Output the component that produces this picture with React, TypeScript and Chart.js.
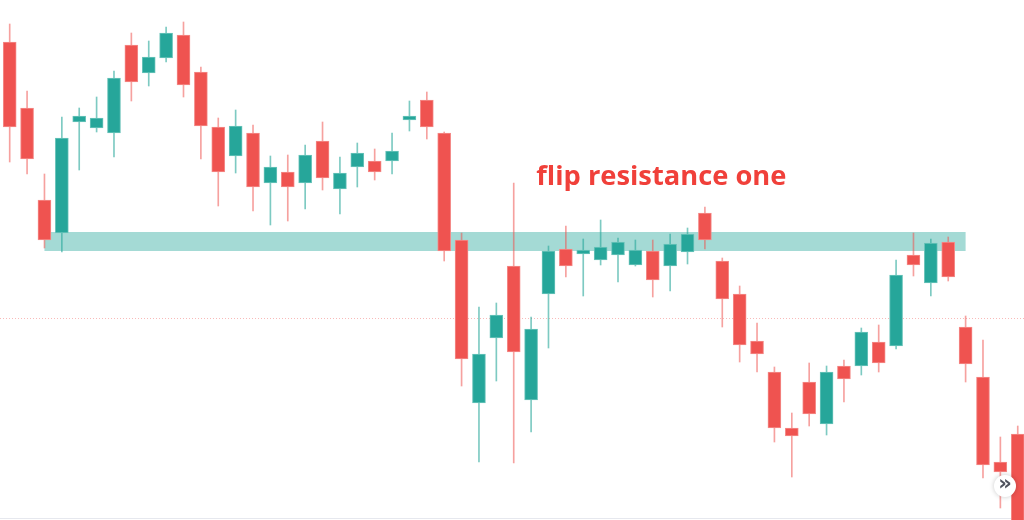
import React, { useEffect, useRef } from "react";
import { Chart, registerables } from "chart.js";

Chart.register(...registerables);

// Candle index (time order) — no visible time labels in the picture
const candleIndex: number[] = Array.from({ length: 59 }, (_, i) => i);

// OHLC (arbitrary price units, higher = up)
const opens: number[] = [
  478, 412, 320, 287, 398, 392, 387, 475, 447, 462,
  485, 448, 393, 364, 387, 337, 348, 337, 379, 331,
  353, 359, 359, 400, 420, 387, 280, 117, 182, 254,
  120, 226, 271, 266, 260, 265, 255, 269, 254, 268,
  307, 259, 226, 179, 148, 92, 138, 96, 154, 154,
  178, 174, 265, 237, 278, 193, 143, 58, 86,
];
const highs: number[] = [
  496, 429, 346, 403, 412, 423, 449, 487, 479, 493,
  498, 453, 402, 410, 395, 364, 365, 375, 398, 363,
  377, 371, 387, 419, 428, 388, 287, 213, 217, 337,
  203, 274, 294, 281, 300, 282, 280, 280, 286, 292,
  313, 262, 234, 197, 153, 107, 157, 154, 160, 192,
  195, 260, 287, 281, 283, 204, 180, 83, 94,
];
const lows: number[] = [
  358, 346, 272, 268, 350, 388, 363, 419, 434, 458,
  423, 361, 314, 347, 309, 295, 299, 311, 330, 306,
  333, 340, 346, 389, 381, 259, 134, 58, 139, 57,
  88, 172, 243, 224, 255, 238, 254, 223, 229, 256,
  271, 193, 158, 148, 78, 43, 94, 85, 118, 145,
  148, 171, 244, 224, 239, 138, 42, 12, -20,
];
const closes: number[] = [
  393, 361, 280, 382, 404, 402, 442, 438, 463, 487,
  435, 394, 348, 394, 333, 353, 333, 365, 342, 347,
  367, 348, 369, 404, 393, 269, 161, 166, 205, 168,
  191, 269, 254, 270, 273, 278, 270, 240, 276, 286,
  280, 221, 175, 166, 92, 84, 106, 148, 141, 188,
  157, 245, 255, 277, 243, 156, 55, 48, -10,
];

// Resistance zone (price band) and the candle span it covers
const zoneTop: number[] = [288];
const zoneBottom: number[] = [269];
const zoneFromIndex: number[] = [2];
const zoneToIndex: number[] = [55];

// Dotted price line
const priceLine: number[] = [202];

// Annotation text and its anchor (candle index, price)
const noteText: string[] = ["flip resistance one"];
const noteIndex: number[] = [30.3];
const notePrice: number[] = [335];

const UP = "#26a69a";
const DOWN = "#ef5350";
const UP_WICK = "rgba(38,166,154,0.6)";
const DOWN_WICK = "rgba(239,83,80,0.55)";
const UP_EDGE = "#6cc4bb";
const DOWN_EDGE = "#f48c8a";

export default function App() {
  const canvasRef = useRef<HTMLCanvasElement | null>(null);

  useEffect(() => {
    const canvas = canvasRef.current;
    if (!canvas) return;

    const isUp = (i: number) => closes[i] >= opens[i];

    const overlayPlugin = {
      id: "overlay",
      beforeDatasetsDraw(chart: any) {
        const { ctx, chartArea, scales } = chart;
        const xs = scales.x;
        const ys = scales.y;
        ctx.save();
        // dotted price line
        priceLine.forEach((p) => {
          const y = Math.round(ys.getPixelForValue(p)) + 0.5;
          ctx.strokeStyle = "rgba(239,83,80,0.4)";
          ctx.lineWidth = 1;
          ctx.setLineDash([1, 2]);
          ctx.beginPath();
          ctx.moveTo(chartArea.left, y);
          ctx.lineTo(chartArea.right, y);
          ctx.stroke();
        });
        ctx.setLineDash([]);
        // zone
        zoneTop.forEach((t, k) => {
          const x1 = xs.getPixelForValue(zoneFromIndex[k]);
          const x2 = xs.getPixelForValue(zoneToIndex[k]);
          const y1 = ys.getPixelForValue(t);
          const y2 = ys.getPixelForValue(zoneBottom[k]);
          ctx.fillStyle = "rgba(38,166,154,0.42)";
          ctx.fillRect(x1, y1, x2 - x1, y2 - y1);
        });
        // bottom border
        ctx.strokeStyle = "#e6e8ee";
        ctx.lineWidth = 1;
        ctx.beginPath();
        ctx.moveTo(chartArea.left, chartArea.bottom - 1.5);
        ctx.lineTo(chartArea.right, chartArea.bottom - 1.5);
        ctx.stroke();
        ctx.restore();
      },
      afterDatasetsDraw(chart: any) {
        const { ctx, chartArea, scales } = chart;
        const xs = scales.x;
        const ys = scales.y;
        ctx.save();
        // annotation text
        noteText.forEach((t, k) => {
          ctx.fillStyle = "#f0403a";
          ctx.font = "bold 27.3px 'Open Sans', 'DejaVu Sans', sans-serif";
          ctx.textAlign = "left";
          ctx.textBaseline = "alphabetic";
          ctx.fillText(t, xs.getPixelForValue(noteIndex[k]), ys.getPixelForValue(notePrice[k]));
        });
        // scroll-to-end button
        const cx = chartArea.right - 19;
        const cy = chartArea.bottom - 34;
        ctx.shadowColor = "rgba(0,0,0,0.22)";
        ctx.shadowBlur = 5;
        ctx.fillStyle = "#ffffff";
        ctx.beginPath();
        ctx.arc(cx, cy, 11, 0, Math.PI * 2);
        ctx.fill();
        ctx.shadowColor = "transparent";
        ctx.shadowBlur = 0;
        ctx.fillStyle = "#50535e";
        ctx.font = "bold 21px 'DejaVu Sans', sans-serif";
        ctx.textAlign = "center";
        ctx.textBaseline = "middle";
        ctx.fillText("»", cx, cy - 1);
        ctx.restore();
      },
    };

    const chart = new Chart(canvas, {
      type: "bar",
      data: {
        datasets: [
          {
            label: "wicks",
            data: candleIndex.map((i) => ({ x: i, y: [lows[i], highs[i]] })) as any,
            backgroundColor: candleIndex.map((i) => (isUp(i) ? UP_WICK : DOWN_WICK)),
            borderWidth: 0,
            barThickness: 1,
            grouped: false,
            order: 2,
            clip: 0,
          } as any,
          {
            label: "bodies",
            data: candleIndex.map((i) => ({ x: i, y: [opens[i], closes[i]] })) as any,
            backgroundColor: candleIndex.map((i) => (isUp(i) ? UP : DOWN)),
            borderColor: candleIndex.map((i) => (isUp(i) ? UP_EDGE : DOWN_EDGE)),
            borderWidth: 1,
            borderSkipped: false,
            barThickness: 13,
            grouped: false,
            order: 1,
            clip: 0,
          } as any,
        ],
      },
      options: {
        animation: false,
        responsive: true,
        maintainAspectRatio: false,
        layout: { padding: 0 },
        plugins: {
          legend: { display: false },
          tooltip: { enabled: false },
        },
        scales: {
          x: {
            type: "linear",
            display: false,
            offset: false,
            min: -0.558,
            max: 58.36,
          },
          y: {
            type: "linear",
            display: false,
            min: 0,
            max: 520,
          },
        },
      },
      plugins: [overlayPlugin],
    });

    return () => chart.destroy();
  }, []);

  return (
    <div
      style={{
        position: "absolute",
        left: 0,
        top: 0,
        width: 1024,
        height: 520,
        background: "#ffffff",
      }}
    >
      <canvas ref={canvasRef} />
    </div>
  );
}
